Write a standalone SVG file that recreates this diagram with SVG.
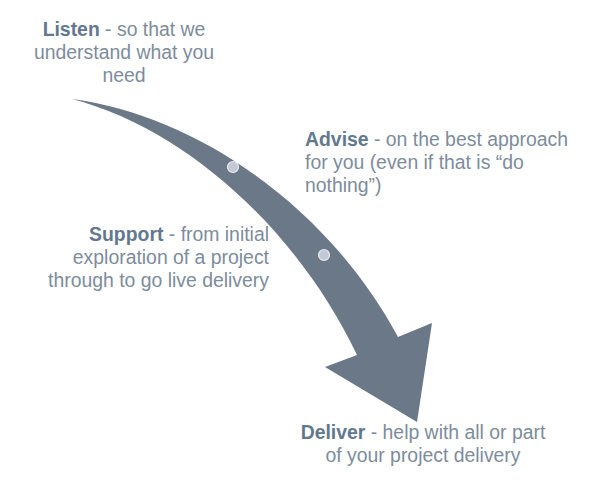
<svg xmlns="http://www.w3.org/2000/svg" width="591" height="488" viewBox="0 0 591 488">
<style>
text{font-family:"Liberation Sans",Arial,sans-serif;font-size:19.4px;fill:#7d8c9c}
.b{font-weight:bold;fill:#62788f}
.dot{fill:#c3c9d6;stroke:#e8ebf0;stroke-width:1.2}
</style>
<rect width="591" height="488" fill="#ffffff"/>
<g id="connectors">
<path d="M72,99 C200,116 330,210 398,337 L432,323 L417,422 L325,367 L357,355 C300,235 190,130 72,99 Z" fill="#6a7888"/>
</g>
<g id="dot1"><circle class="dot" cx="233" cy="167" r="5.5"/></g>
<g id="dot2"><circle class="dot" cx="324" cy="255" r="5.5"/></g>
<g id="listen">
<text x="124" y="36" text-anchor="middle"><tspan class="b">Listen</tspan> - so that we</text>
<text x="124" y="59" text-anchor="middle">understand what you</text>
<text x="124" y="82" text-anchor="middle">need</text>
</g>
<g id="advise">
<text x="305" y="146"><tspan class="b">Advise</tspan> - on the best approach</text>
<text x="305" y="169">for you (even if that is “do</text>
<text x="305" y="192">nothing”)</text>
</g>
<g id="support">
<text x="269" y="241" text-anchor="end"><tspan class="b">Support</tspan>  - from initial</text>
<text x="269" y="264" text-anchor="end">exploration of a project</text>
<text x="269" y="287" text-anchor="end">through to go live delivery</text>
</g>
<g id="deliver">
<text x="423" y="439" text-anchor="middle"><tspan class="b">Deliver</tspan> - help with all or part</text>
<text x="423" y="462" text-anchor="middle">of your project delivery</text>
</g>
</svg>
